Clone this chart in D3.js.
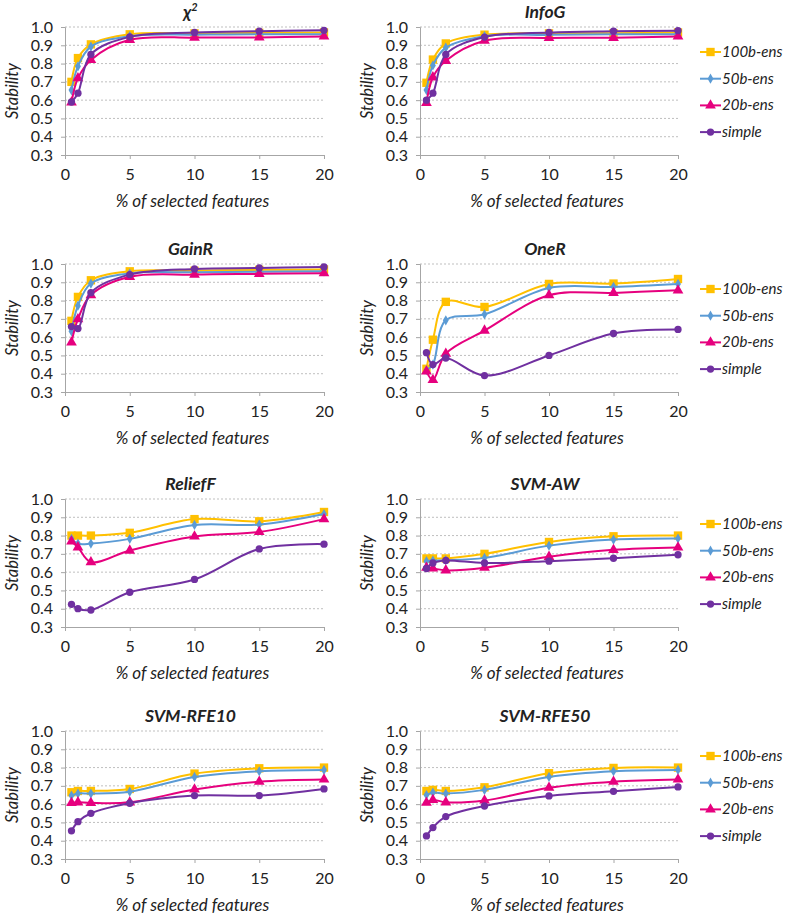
<!DOCTYPE html>
<head>
<meta charset="utf-8">
<style>
  body { margin:0; background:#fff; }
  text { font-family: Lato, "Open Sans", sans-serif; fill:#222; }
  .grid line { stroke:#bfbfbf; stroke-dasharray:2,2; stroke-width:1; }
  .tick-lbl { font-size:16px; }
  .ttl { font-size:17.5px; font-weight:bold; font-style:italic; }
  .axttl { font-size:17px; font-style:italic; }
  .ylab { font-size:16.5px; font-style:italic; }
  .leg { font-size:15px; font-style:italic; }
</style>
</head>
<script src="https://d3js.org/d3.v7.min.js"></script>
<div id="my_dataviz"></div>
<script>
// x positions (% of selected features)
const xValues = [0.5, 1, 2, 5, 10, 15, 20];
const seriesNames = ["100b-ens", "50b-ens", "20b-ens", "simple"];
const yTicks = [0.3, 0.4, 0.5, 0.6, 0.7, 0.8, 0.9, 1.0];
const xTicks = [0, 5, 10, 15, 20];
const methodNames = ["χ2", "InfoG", "GainR", "OneR", "ReliefF", "SVM-AW", "SVM-RFE10", "SVM-RFE50"];

// stability values, one row per series (100b, 50b, 20b, simple)
const chi2 = [
  [0.70, 0.83, 0.905, 0.96, 0.965, 0.968, 0.97],
  [0.655, 0.785, 0.893, 0.95, 0.958, 0.96, 0.96],
  [0.587, 0.72, 0.82, 0.93, 0.942, 0.943, 0.948],
  [0.59, 0.638, 0.85, 0.946, 0.97, 0.977, 0.982]
];
const infoG = [
  [0.695, 0.822, 0.91, 0.958, 0.965, 0.966, 0.97],
  [0.655, 0.79, 0.887, 0.95, 0.957, 0.96, 0.96],
  [0.585, 0.725, 0.815, 0.925, 0.94, 0.941, 0.948],
  [0.60, 0.638, 0.85, 0.945, 0.97, 0.977, 0.98]
];
const gainR = [
  [0.689, 0.82, 0.911, 0.96, 0.963, 0.968, 0.97],
  [0.632, 0.772, 0.893, 0.948, 0.955, 0.958, 0.96],
  [0.571, 0.698, 0.83, 0.93, 0.942, 0.946, 0.95],
  [0.658, 0.647, 0.843, 0.942, 0.973, 0.978, 0.984]
];
const oneR = [
  [0.427, 0.586, 0.793, 0.765, 0.891, 0.893, 0.918],
  [0.42, 0.45, 0.692, 0.725, 0.869, 0.875, 0.891],
  [0.413, 0.366, 0.51, 0.636, 0.829, 0.842, 0.856],
  [0.515, 0.45, 0.486, 0.39, 0.50, 0.62, 0.642]
];
const reliefF = [
  [0.80, 0.80, 0.80, 0.815, 0.89, 0.878, 0.929],
  [0.782, 0.756, 0.756, 0.782, 0.858, 0.86, 0.918],
  [0.768, 0.736, 0.655, 0.718, 0.795, 0.82, 0.89],
  [0.424, 0.40, 0.393, 0.49, 0.56, 0.727, 0.753]
];
const svmAW = [
  [0.675, 0.675, 0.675, 0.70, 0.765, 0.796, 0.80],
  [0.66, 0.663, 0.665, 0.678, 0.745, 0.778, 0.784],
  [0.624, 0.62, 0.61, 0.624, 0.684, 0.722, 0.735],
  [0.62, 0.65, 0.664, 0.65, 0.66, 0.676, 0.695]
];
const svmRFE10 = [
  [0.665, 0.672, 0.672, 0.683, 0.767, 0.796, 0.80],
  [0.647, 0.658, 0.658, 0.668, 0.749, 0.78, 0.787],
  [0.607, 0.61, 0.607, 0.61, 0.68, 0.723, 0.735],
  [0.454, 0.504, 0.55, 0.605, 0.647, 0.647, 0.683]
];
const svmRFE50 = [
  [0.672, 0.678, 0.672, 0.692, 0.769, 0.798, 0.80],
  [0.65, 0.663, 0.658, 0.678, 0.749, 0.78, 0.787],
  [0.608, 0.623, 0.61, 0.62, 0.69, 0.723, 0.735],
  [0.426, 0.472, 0.532, 0.59, 0.645, 0.67, 0.694]
];
const methodData = [chi2, infoG, gainR, oneR, reliefF, svmAW, svmRFE10, svmRFE50];

const colors = ["#FFC000", "#5B9BD5", "#E6007E", "#7030A0"];
const symbols = [d3.symbolSquare, d3.symbolDiamond, d3.symbolTriangle, d3.symbolCircle];
const symSizes = [70, 30, 50, 42];

var W = 785, H = 915;
var svg = d3.select("#my_dataviz").append("svg")
  .attr("width", W).attr("height", H);

// panel geometry
var colX = [[65, 324], [420, 678]];
var rowTop = [27, 264, 499, 731];
var plotH = 128;

methodData.forEach(function(data, k) {
  var col = k % 2, row = Math.floor(k / 2);
  var x0 = colX[col][0], x1 = colX[col][1];
  var top = rowTop[row], bot = top + plotH;

  var x = d3.scaleLinear().domain([0, 20]).range([x0, x1]);
  var y = d3.scaleLinear().domain([0.3, 1.0]).range([bot, top]);

  var g = svg.append("g");

  // dotted gridlines
  g.append("g").attr("class", "grid")
    .selectAll("line").data(yTicks.slice(1)).enter().append("line")
      .attr("x1", x0).attr("x2", x1)
      .attr("y1", d => y(d)).attr("y2", d => y(d));

  // axes
  var ax = g.append("g").attr("transform", "translate(0," + bot + ")")
    .call(d3.axisBottom(x).tickValues(xTicks).tickSize(4).tickPadding(10));
  var ay = g.append("g").attr("transform", "translate(" + x0 + ",0)")
    .call(d3.axisLeft(y).tickValues(yTicks).tickSize(4).tickPadding(8)
      .tickFormat(d3.format(".1f")));
  [ax, ay].forEach(function(a) {
    a.select(".domain").attr("stroke", "#a6a6a6");
    a.selectAll(".tick line").attr("stroke", "#a6a6a6");
    a.selectAll(".tick text").attr("class", "tick-lbl")
      .style("font-family", "Lato, 'Open Sans', sans-serif").attr("fill", "#222");
  });

  // title
  var ttl = g.append("text").attr("class", "ttl")
    .attr("x", (x0 + x1) / 2 - 4).attr("y", top - 9)
    .attr("text-anchor", "middle");
  if (methodNames[k] === "χ2") {
    ttl.append("tspan").text("χ");
    ttl.append("tspan").attr("dy", -7).style("font-size", "11px").text("2");
  } else {
    ttl.text(methodNames[k]);
  }

  // axis titles
  g.append("text").attr("class", "ylab")
    .attr("text-anchor", "middle")
    .attr("transform", "translate(" + (x0 - 47) + "," + (top + plotH / 2) + ") rotate(-90)")
    .text("Stability");
  g.append("text").attr("class", "axttl")
    .attr("text-anchor", "middle")
    .attr("x", (x0 + x1) / 2 - 2).attr("y", bot + 52)
    .text("% of selected features");

  var line = d3.line()
    .x((d, i) => x(xValues[i]))
    .y(d => y(d))
    .curve(d3.curveCatmullRom.alpha(0.5));

  data.forEach(function(vals, s) {
    g.append("path").datum(vals)
      .attr("fill", "none")
      .attr("stroke", colors[s])
      .attr("stroke-width", 2)
      .attr("d", line);
    g.selectAll(".pt" + s).data(vals).enter().append("path")
      .attr("transform", (d, i) => "translate(" + x(xValues[i]) + "," + y(d) + ")")
      .attr("d", d3.symbol().type(symbols[s]).size(symSizes[s]))
      .attr("fill", colors[s]);
  });

  // legend on right-hand panels
  if (col === 1) {
    var lg = g.append("g");
    seriesNames.forEach(function(name, s) {
      var ly = top + 25 + s * 26.7;
      lg.append("line").attr("x1", 700).attr("x2", 721)
        .attr("y1", ly).attr("y2", ly)
        .attr("stroke", colors[s]).attr("stroke-width", 2);
      lg.append("path")
        .attr("transform", "translate(710.5," + ly + ")")
        .attr("d", d3.symbol().type(symbols[s]).size(symSizes[s]))
        .attr("fill", colors[s]);
      lg.append("text").attr("class", "leg")
        .attr("x", 722).attr("y", ly + 5)
        .text(name);
    });
  }
});
</script>
